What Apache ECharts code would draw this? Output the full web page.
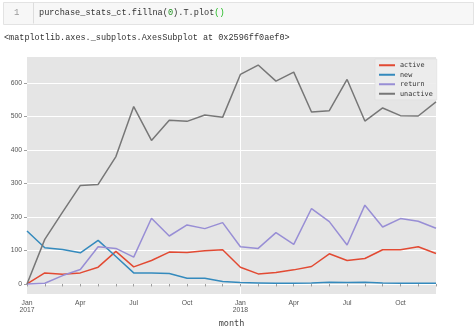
<!DOCTYPE html>
<html>
<head>
<meta charset="utf-8">
<script src="https://cdn.jsdelivr.net/npm/echarts@6/dist/echarts.min.js"></script>
<style>
html,body{margin:0;padding:0;background:#fff;}
#chart{width:474px;height:336px;}
</style>
</head>
<body>
<div id="chart"></div>
<script>
// ---- data ----
var months = ['2017-01','2017-02','2017-03','2017-04','2017-05','2017-06','2017-07','2017-08','2017-09','2017-10','2017-11','2017-12',
              '2018-01','2018-02','2018-03','2018-04','2018-05','2018-06','2018-07','2018-08','2018-09','2018-10','2018-11','2018-12'];
var active   = [0,33,29,33,50,97,51,70,95,94,99,102,50,30,34,42,52,90,70,76,102,102,111,91];
var newUsers = [158,108,103,93,130,82,33,33,31,17,17,7,4,3,2,2,3,5,4,5,3,2,2,2];
var returned = [0,2,25,43,111,106,80,196,143,176,165,183,111,106,153,118,225,186,116,235,170,195,187,166];
var unactive = [0,133,214,294,297,380,529,428,488,485,504,497,625,653,605,632,513,517,610,486,525,502,501,543];
var seriesNames = ['active','new','return','unactive'];
var xTickIndex = [0,3,6,9,12,15,18,21];
var xTickText  = ['Jan\n2017','Apr','Jul','Oct','Jan\n2018','Apr','Jul','Oct'];
var codeParts = ['purchase_stats_ct.fillna(', '0', ').T.plot', '()'];
var outLine = '<matplotlib.axes._subplots.AxesSubplot at 0x2596ff0aef0>';

var colors = ['#E24A33','#348ABD','#988ED5','#777777'];
var values = [active, newUsers, returned, unactive];

var chart = echarts.init(document.getElementById('chart'), null, {renderer:'canvas'});
var option = {
  animation: false,
  backgroundColor: '#ffffff',
  color: colors,
  grid: {left: 27, right: 38, top: 56, bottom: 42, show: true, backgroundColor: '#E5E5E5', borderWidth: 0, containLabel: false},
  legend: {
    orient: 'vertical', left: 375, top: 59,
    data: seriesNames,
    icon: 'rect', itemWidth: 16, itemHeight: 2, itemGap: 1,
    padding: [2, 4, 2, 4],
    backgroundColor: 'rgba(236,236,236,0.9)', borderColor: '#dcdcdc', borderWidth: 0.6,
    textStyle: {fontFamily: 'DejaVu Sans Mono', fontSize: 6.8, color: '#333', lineHeight: 8.5, padding: [0,0,0,0]}
  },
  xAxis: {
    type: 'category', data: months, boundaryGap: false,
    name: 'month', nameLocation: 'middle', nameGap: 23,
    nameTextStyle: {fontFamily: 'DejaVu Sans Mono', fontSize: 8.5, color: '#444'},
    axisLine: {show: false},
    axisTick: {show: true, interval: 0, length: 2.5, lineStyle: {color: '#888', width: 0.8}},
    axisLabel: {
      interval: 0, margin: 5,
      fontFamily: 'Liberation Sans', fontSize: 6.8, color: '#555', lineHeight: 7.5,
      formatter: function (v, i) { var k = xTickIndex.indexOf(i); return k >= 0 ? xTickText[k] : ''; }
    },
    splitLine: {show: true, interval: function (i) { return i === 12; }, lineStyle: {color: '#ffffff', width: 1}}
  },
  yAxis: {
    type: 'value', min: -30, max: 680, splitNumber: 7,
    axisLine: {show: false},
    axisTick: {show: true, length: 3, lineStyle: {color: '#888', width: 0.8}},
    axisLabel: {showMinLabel: false, showMaxLabel: false, margin: 5, fontFamily: 'Liberation Sans', fontSize: 6.8, color: '#555'},
    splitLine: {show: true, lineStyle: {color: '#ffffff', width: 1}}
  },
  series: seriesNames.map(function (n, k) {
    return {name: n, type: 'line', data: values[k], symbol: 'none', lineStyle: {width: 1.5, color: colors[k]}, itemStyle: {color: colors[k]}};
  }),
  graphic: [
    {type: 'rect', left: 3, top: 2, shape: {width: 470, height: 22}, style: {fill: '#f7f7f7', stroke: '#e3e3e3', lineWidth: 1}, silent: true},
    {type: 'line', shape: {x1: 33.5, y1: 2.5, x2: 33.5, y2: 23.5}, style: {stroke: '#dddddd', lineWidth: 1}, silent: true},
    {type: 'text', left: 14, top: 8, style: {text: '1', fontFamily: 'Liberation Mono', fontSize: 9, fill: '#999'}, silent: true},
    {type: 'text', left: 39, top: 8, silent: true, style: {
      text: '{a|' + codeParts[0] + '}{n|' + codeParts[1] + '}{a|' + codeParts[2] + '}{g|' + codeParts[3] + '}',
      rich: {
        a: {fontFamily: 'Liberation Mono', fontSize: 8.6, fill: '#333'},
        n: {fontFamily: 'Liberation Mono', fontSize: 8.6, fill: '#1a8f1a'},
        g: {fontFamily: 'Liberation Mono', fontSize: 8.6, fill: '#22bb22'}
      }
    }},
    {type: 'text', left: 4, top: 33, style: {text: outLine, fontFamily: 'Liberation Mono', fontSize: 8.5, fill: '#333'}, silent: true}
  ]
};
chart.setOption(option);
</script>
</body>
</html>
